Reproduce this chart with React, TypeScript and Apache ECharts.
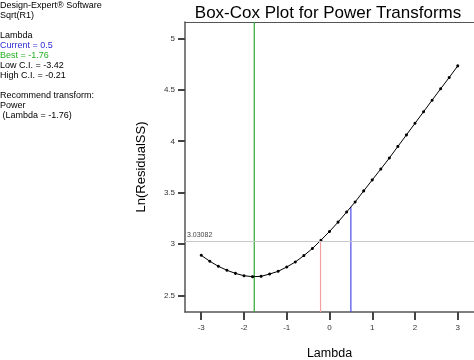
import React, { useEffect, useRef } from "react";
import * as echarts from "echarts";

const lambdaValues = [-3, -2.8, -2.6, -2.4, -2.2, -2, -1.8, -1.6, -1.4, -1.2, -1, -0.8, -0.6, -0.4, -0.2, 0, 0.2, 0.4, 0.6, 0.8, 1, 1.2, 1.4, 1.6, 1.8, 2, 2.2, 2.4, 2.6, 2.8, 3];
const lnResidualSS = [2.889, 2.831, 2.782, 2.743, 2.713, 2.69, 2.681, 2.684, 2.707, 2.733, 2.775, 2.824, 2.886, 2.955, 3.036, 3.121, 3.212, 3.31, 3.408, 3.516, 3.623, 3.728, 3.836, 3.949, 4.061, 4.174, 4.286, 4.399, 4.51, 4.62, 4.733];
const xTicks = [-3, -2, -1, 0, 1, 2, 3];
const yTicks = [2.5, 3, 3.5, 4, 4.5, 5];
const xRange = [-3.38, 3.38];
const yRange = [2.337, 5.16];
const ciThreshold = 3.03082;
const currentLambda = 0.5;
const currentLnSS = 3.36;
const bestLambda = -1.76;
const highCI = -0.21;
const infoLines = [
  { text: "Design-Expert\u00AE Software", color: "#000" },
  { text: "Sqrt(R1)", color: "#000" },
  { text: "", color: "#000" },
  { text: "Lambda", color: "#000" },
  { text: "Current = 0.5", color: "#2b2bd6" },
  { text: "Best = -1.76", color: "#22b022" },
  { text: "Low C.I. = -3.42", color: "#000" },
  { text: "High C.I. = -0.21", color: "#000" },
  { text: "", color: "#000" },
  { text: "Recommend transform:", color: "#000" },
  { text: "Power", color: "#000" },
  { text: " (Lambda = -1.76)", color: "#000" },
];

const FONT = "'Liberation Sans', Arial, sans-serif";

export default function App() {
  const ref = useRef<HTMLDivElement>(null);
  useEffect(() => {
    if (!ref.current) return;
    const chart = echarts.init(ref.current, null, { renderer: "svg" });
    const axisColor = "#555";
    const tickColor = "#444";
    const vline = (x: number, y0: number, y1: number, color: string) => ({
      type: "line",
      data: [[x, y0], [x, y1]],
      showSymbol: false,
      symbol: "none",
      lineStyle: { color, width: 1.2 },
      z: 1,
      silent: true,
    });
    chart.setOption({
      animation: false,
      textStyle: { fontFamily: FONT },
      title: {
        text: "Box-Cox Plot for Power Transforms",
        left: 323,
        textAlign: "center",
        top: -1,
        textStyle: { fontFamily: FONT, fontSize: 17, fontWeight: "normal", color: "#000" },
      },
      grid: { left: 185, top: 22, right: 0, bottom: 48, outerBoundsMode: "none", containLabel: false },
      xAxis: [
        {
          type: "value",
          min: xRange[0],
          max: xRange[1],
          position: "bottom",
          name: "Lambda",
          nameLocation: "middle",
          nameGap: 34,
          nameMoveOverlap: false,
          nameTextStyle: { fontFamily: FONT, fontSize: 12.5, color: "#000" },
          axisLine: { show: true, onZero: false, lineStyle: { color: axisColor, width: 1.5 } },
          axisTick: { show: true, length: 8, customValues: xTicks, lineStyle: { color: tickColor, width: 2 } },
          axisLabel: { customValues: xTicks, fontSize: 8, color: "#333", margin: 11, fontFamily: FONT },
          splitLine: { show: false },
        },
        {
          type: "value",
          min: xRange[0],
          max: xRange[1],
          position: "top",
          axisLine: { show: true, onZero: false, lineStyle: { color: axisColor, width: 1.2 } },
          axisTick: { show: false },
          axisLabel: { show: false },
          splitLine: { show: false },
        },
      ],
      yAxis: {
        type: "value",
        min: yRange[0],
        max: yRange[1],
        position: "left",
        name: "Ln(ResidualSS)",
        nameLocation: "middle",
        nameGap: 38,
        nameMoveOverlap: false,
        nameTextStyle: { fontFamily: FONT, fontSize: 13, color: "#000" },
        axisLine: { show: true, onZero: false, lineStyle: { color: axisColor, width: 1.5 } },
        axisTick: { show: true, length: 7, customValues: yTicks, lineStyle: { color: tickColor, width: 2 } },
        axisLabel: { customValues: yTicks, fontSize: 8, color: "#333", margin: 10, fontFamily: FONT },
        splitLine: { show: false },
      },
      graphic: infoLines.map((l, i) => ({
        type: "text",
        left: 0,
        top: i * 10 + 0,
        style: { text: l.text, fill: l.color, font: `9px ${FONT}` },
      })),
      series: [
        vline(bestLambda, yRange[0], yRange[1], "#2ea82e"),
        vline(highCI, yRange[0], ciThreshold, "#f0a0a0"),
        vline(currentLambda, yRange[0], currentLnSS, "#4a4ae8"),
        {
          type: "line",
          data: lambdaValues.map((x, i) => [x, lnResidualSS[i]]),
          symbol: "circle",
          symbolSize: 3,
          showSymbol: true,
          itemStyle: { color: "#000" },
          lineStyle: { color: "#000", width: 1 },
          z: 3,
          markLine: {
            silent: true,
            symbol: "none",
            data: [{ yAxis: ciThreshold }],
            lineStyle: { color: "#c8c8c8", width: 1, type: "solid" },
            label: {
              position: "insideStartTop",
              formatter: String(ciThreshold),
              fontSize: 7,
              color: "#444",
              fontFamily: FONT,
              distance: [2, 3],
            },
          },
        },
      ],
    });
    return () => chart.dispose();
  }, []);
  return <div ref={ref} style={{ position: "fixed", left: 0, top: 0, width: 474, height: 360 }} />;
}
